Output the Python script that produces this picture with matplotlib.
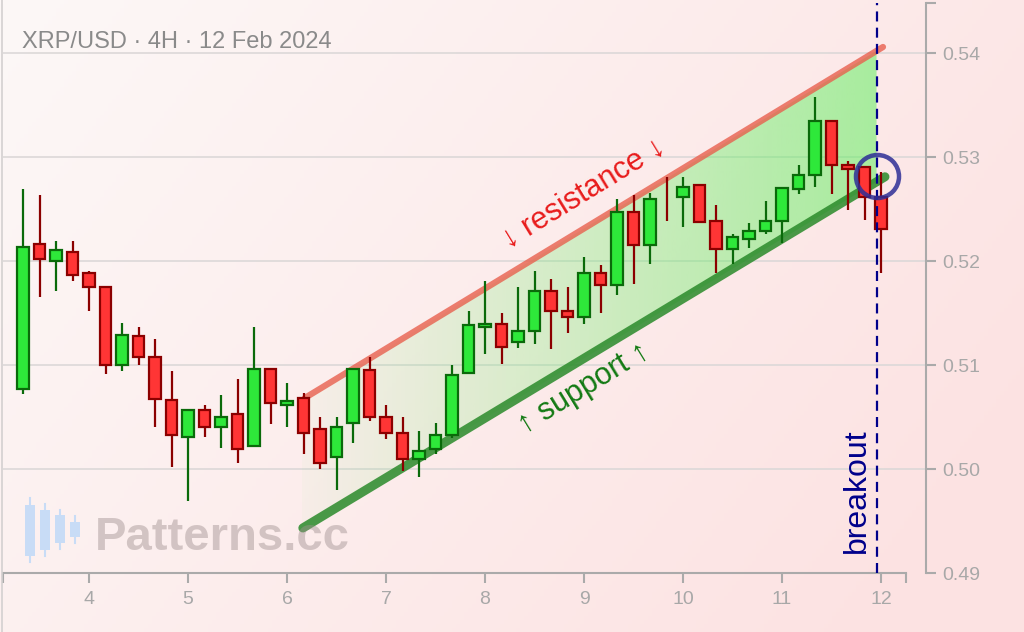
import numpy as np
import matplotlib
matplotlib.use("Agg")
import matplotlib.pyplot as plt
from matplotlib.patches import Rectangle, Polygon
from matplotlib.lines import Line2D

plt.rcParams['font.family'] = ['Liberation Sans', 'DejaVu Sans']

# 4H candles, XRP/USD, x = day of Feb 2024
t_start = 3 + 2 / 6
opens = [0.50766, 0.52160, 0.52000, 0.52084, 0.51888, 0.51753, 0.51000, 0.51276, 0.51080, 0.50660,
         0.50308, 0.50567, 0.50401, 0.50526, 0.50221, 0.50965, 0.50615, 0.50680, 0.50388, 0.50113,
         0.50440, 0.50949, 0.50503, 0.50349, 0.50093, 0.50189, 0.50327, 0.50921, 0.51369, 0.51391,
         0.51224, 0.51324, 0.51715, 0.51522, 0.51466, 0.51888, 0.51766, 0.52468, 0.52151, 0.52610,
         0.52619, 0.52734, 0.52388, 0.52113, 0.52209, 0.52291, 0.52388, 0.52695, 0.52824, 0.53349,
         0.52923, 0.52907, 0.52619]
highs = [0.52692, 0.52635, 0.52192, 0.52192, 0.51904, 0.51763, 0.51400, 0.51363, 0.51247, 0.50942,
         0.50574, 0.50615, 0.50712, 0.50865, 0.51365, 0.50965, 0.50824, 0.50728, 0.50497, 0.50497,
         0.50965, 0.51074, 0.50612, 0.50497, 0.50362, 0.50440, 0.50997, 0.51519, 0.51808, 0.51497,
         0.51747, 0.51901, 0.51827, 0.51750, 0.52036, 0.51959, 0.52593, 0.52635, 0.52651, 0.52807,
         0.52805, 0.52740, 0.52535, 0.52260, 0.52362, 0.52577, 0.52699, 0.52923, 0.53574, 0.53349,
         0.52962, 0.52913, 0.52859]
lows = [0.50718, 0.51657, 0.51715, 0.51811, 0.51522, 0.50911, 0.50945, 0.51003, 0.50407, 0.50022,
        0.49695, 0.50311, 0.50199, 0.50061, 0.50215, 0.50430, 0.50407, 0.50141, 0.50000, 0.49798,
        0.50253, 0.50465, 0.50291, 0.49984, 0.49926, 0.50141, 0.50295, 0.50921, 0.51103, 0.51007,
        0.51166, 0.51199, 0.51157, 0.51311, 0.51394, 0.51503, 0.51676, 0.51776, 0.51968, 0.52388,
        0.52330, 0.52369, 0.51888, 0.51971, 0.52122, 0.52257, 0.52176, 0.52641, 0.52715, 0.52641,
        0.52490, 0.52394, 0.51888]
closes = [0.52137, 0.52016, 0.52103, 0.51862, 0.51747, 0.51000, 0.51292, 0.51074, 0.50673, 0.50324,
          0.50567, 0.50401, 0.50503, 0.50192, 0.50965, 0.50630, 0.50657, 0.50343, 0.50055, 0.50407,
          0.50965, 0.50500, 0.50343, 0.50093, 0.50176, 0.50330, 0.50904, 0.51388, 0.51392, 0.51170,
          0.51330, 0.51715, 0.51519, 0.51459, 0.51885, 0.51766, 0.52468, 0.52151, 0.52600, 0.52610,
          0.52715, 0.52378, 0.52113, 0.52234, 0.52291, 0.52388, 0.52699, 0.52830, 0.53349, 0.52920,
          0.52888, 0.52619, 0.52308]

# channel lines (day, price)
res_x = [6.18, 12.02]
res_y = [0.50683, 0.54058]
sup_x = [6.16, 12.04]
sup_y = [0.49433, 0.52810]
breakout_x = 11.955
breakout_y = 0.52813

x_ticks = [4, 5, 6, 7, 8, 9, 10, 11, 12]
y_ticks = [0.49, 0.50, 0.51, 0.52, 0.53, 0.54]

W, H = 1024, 632
fig = plt.figure(figsize=(W / 100, H / 100), dpi=100)

# background gradient
bg_ax = fig.add_axes([0, 0, 1, 1], zorder=-10)
u = np.linspace(0, 1, 256)[None, :]
v = np.linspace(0, 1, 160)[:, None]
mix = np.clip(0.75 * u + 0.35 * v, 0, 1)
tl = np.array([253, 248, 247]) / 255
br = np.array([252, 226, 226]) / 255
bg = tl[None, None, :] + (br - tl)[None, None, :] * mix[:, :, None]
bg_ax.imshow(bg, aspect='auto', extent=[0, 1, 0, 1], origin='upper')
bg_ax.axis('off')
fig.add_artist(Line2D([1.5 / W, 1.5 / W], [0, 1], color='#d4d0d0', lw=1.2, transform=fig.transFigure))

ax = fig.add_axes([3 / W, 59 / H, 923 / W, 570 / H])
ax.set_facecolor('none')
xmin, xmax = 3.1313, 12.4545
ymin, ymax = 0.49, 0.54481

# grid
for yt in y_ticks[1:]:
    ax.axhline(yt, color='#dcd8d8', lw=1.2, zorder=0)

# channel fill with horizontal gradient
def res_at(x):
    return res_y[0] + (res_y[1] - res_y[0]) * (x - res_x[0]) / (res_x[1] - res_x[0])

def sup_at(x):
    return sup_y[0] + (sup_y[1] - sup_y[0]) * (x - sup_x[0]) / (sup_x[1] - sup_x[0])

fx0, fx1 = 6.15, breakout_x
poly = Polygon([[fx0, res_at(fx0)], [fx1, res_at(fx1)], [fx1, sup_at(fx1)], [fx0, sup_at(fx0)]],
               closed=True, facecolor='none', edgecolor='none')
ax.add_patch(poly)
grad = np.zeros((1, 256, 4))
grad[..., 0] = 90 / 255
grad[..., 1] = 240 / 255
grad[..., 2] = 90 / 255
grad[..., 3] = np.linspace(0.03, 0.52, 256)
im = ax.imshow(grad, aspect='auto', extent=[fx0, fx1, ymin, ymax], origin='lower', zorder=1)
im.set_clip_path(poly)

# trend lines
ax.plot(res_x, res_y, color='#e8604e', alpha=0.8, lw=4.5, solid_capstyle='round', zorder=2)
ax.plot(sup_x, sup_y, color='#2a8a2a', alpha=0.85, lw=6.5, solid_capstyle='round', zorder=2)

# candles
bw = 0.12
for i in range(len(opens)):
    x = t_start + i / 6
    o, h, l, c = opens[i], highs[i], lows[i], closes[i]
    up = c > o
    edge = '#0a6a0a' if up else '#8b0000'
    face = '#2ee83a' if up else '#ff3535'
    ax.plot([x, x], [l, h], color=edge, lw=1.6, zorder=3, solid_capstyle='butt')
    if o != c:
        ax.add_patch(Rectangle((x - bw / 2, min(o, c)), bw, abs(c - o), facecolor=face,
                               edgecolor=edge, lw=1.6, zorder=4))

# breakout marker
ax.axvline(breakout_x, color='#00008b', lw=1.6, ls=(0, (4.5, 2.8)), zorder=5)
ax.plot([breakout_x], [breakout_y], 'o', ms=31, mfc='none', mec='#2e2e96', mew=3.2, alpha=0.85, zorder=6)

# labels
ax.text(9.0, 0.52644, '↓ resistance ↓', color='#e81c1c', fontsize=22, rotation=31.5,
        ha='center', va='center', rotation_mode='anchor', zorder=6)
ax.text(9.0, 0.50779, '↑ support ↑', color='#137a13', fontsize=22, rotation=31.5,
        ha='center', va='center', rotation_mode='anchor', zorder=6)
ax.text(11.76, 0.49788, 'breakout', color='#00008b', fontsize=23, rotation=90,
        ha='center', va='center', zorder=6)

# axes styling
ax.set_xlim(xmin, xmax)
ax.set_ylim(ymin, ymax)
for s in ['left', 'top']:
    ax.spines[s].set_visible(False)
for s in ['bottom', 'right']:
    ax.spines[s].set_color('#aaaaaa')
    ax.spines[s].set_linewidth(1.5)
ax.spines['bottom'].set_bounds(xmin, 12.25)
ax.set_xticks([xmin] + x_ticks + [12.25])
ax.set_xticklabels([''] + [str(t) for t in x_ticks] + [''])
ax.yaxis.tick_right()
ax.set_yticks(y_ticks + [ymax])
ax.set_yticklabels([f'{t:.2f}' for t in y_ticks] + [''])
ax.tick_params(axis='both', colors='#aaaaaa', labelcolor='#a8a8a8', labelsize=14,
               length=7, width=1.5, direction='out')
ax.tick_params(axis='x', pad=6)
ax.tick_params(axis='y', pad=5)

# title
fig.text(22 / W, 1 - 48 / H, 'XRP/USD · 4H · 12 Feb 2024', color='#8a8a8a', fontsize=17,
         ha='left', va='baseline')

# watermark
fig.text(95 / W, 1 - 550 / H, 'Patterns.cc', color='#a09090', alpha=0.45, fontsize=34,
         fontweight='bold', ha='left', va='baseline')
logo = [(30, 498, 562, 505, 556), (45, 504, 556, 510, 550), (60, 510, 549, 515, 543), (75, 516, 543, 522, 537)]
for cx, wt, wb, bt, bb in logo:
    fig.add_artist(Line2D([cx / W, cx / W], [1 - wb / H, 1 - wt / H], color='#c8dcf6', lw=1.5,
                          transform=fig.transFigure))
    fig.add_artist(Rectangle(((cx - 5) / W, 1 - bb / H), 10 / W, (bb - bt) / H, facecolor='#c8dcf6',
                             edgecolor='none', transform=fig.transFigure))

fig.savefig('out.png', dpi=100)
